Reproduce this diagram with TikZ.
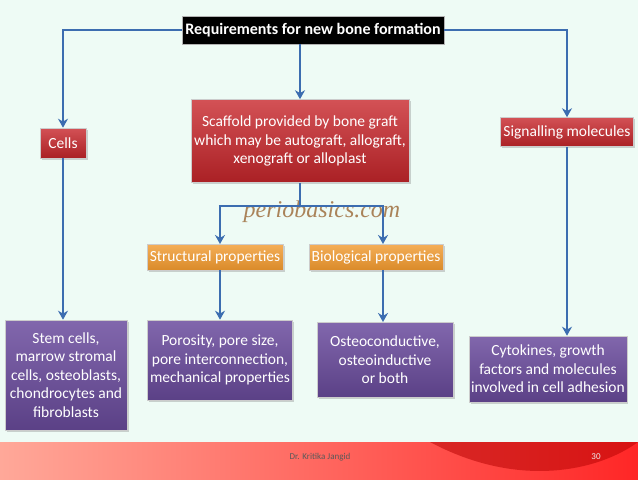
\documentclass[tikz,border=0pt]{standalone}
\usepackage{fontspec}
\setmainfont{Carlito}
\usetikzlibrary{arrows.meta,shadows}
\definecolor{bg}{HTML}{EEFBF5}
\definecolor{redb}{HTML}{C8262B}
\definecolor{orab}{HTML}{F29A2E}
\definecolor{purb}{HTML}{6B4C9E}
\definecolor{arr}{HTML}{3C6DB0}
\tikzset{
 bx/.style={draw=white!80!black, line width=0.6pt, text=white, align=center, font=\fontsize{15.5}{18.5}\selectfont, inner sep=2pt, drop shadow={opacity=0.35,shadow xshift=1.5pt,shadow yshift=-1.5pt}},
 redbox/.style={bx, top color=redb!80!white, bottom color=redb!85!black},
 orabox/.style={bx, top color=orab!80!white, bottom color=orab!90!black},
 purbox/.style={bx, top color=purb!85!white, bottom color=purb!85!black},
 ar/.style={draw=arr, line width=2.5pt, -{Stealth[length=9pt,width=10pt]}},
 ln/.style={draw=arr, line width=2.5pt},
}
\begin{document}
\begin{tikzpicture}[x=1pt,y=-1pt]
\fill[bg] (0,0) rectangle (638,479);
\shade[left color=orange!30!red!40!white, right color=red!85!white] (0,442) rectangle (638,479);
\fill[red!70!black, opacity=0.5] (430,442) .. controls (520,490) and (600,470) .. (638,442) -- cycle;
\useasboundingbox (0,0) rectangle (638,479);
% boxes
\node[fill=black, text=white, font=\bfseries\fontsize{16}{18}\selectfont, minimum width=246, minimum height=28, draw=white!70!black] (t) at (313,30) {Requirements for new bone formation};
\node[redbox, minimum width=46, minimum height=30] (c) at (63,143) {Cells};
\node[redbox, minimum width=218, minimum height=83] (s) at (300,141) {Scaffold provided by bone graft\\which may be autograft, allograft,\\xenograft or alloplast};
\node[redbox, minimum width=133, minimum height=29] (g) at (567,132) {Signalling molecules};
\node[orabox, minimum width=136, minimum height=26] (st) at (215,257) {Structural properties};
\node[orabox, minimum width=134, minimum height=26] (bi) at (376,257) {Biological properties};
\node[purbox, minimum width=122, minimum height=110] (p1) at (66,375) {Stem cells,\\marrow stromal\\cells, osteoblasts,\\chondrocytes and\\fibroblasts};
\node[purbox, minimum width=145, minimum height=80] (p2) at (220,360) {Porosity, pore size,\\pore interconnection,\\mechanical properties};
\node[purbox, minimum width=136, minimum height=75] (p3) at (385,360) {Osteoconductive,\\osteoinductive\\or both};
\node[purbox, minimum width=149, minimum height=66] (p4) at (548,369) {Cytokines, growth\\factors and molecules\\involved in cell adhesion};
% logo
\node[text=brown!80!black, opacity=0.8] (logo) at (322,212) {\fontspec{Liberation Serif}\itshape\fontsize{24}{26}\selectfont periobasics.com};
% connectors
\coordinate (tl) at (63,30); \coordinate (tr) at (567,30);
\draw[ar] (t.west) -- (tl) -- (c.north);
\draw[ar] (t.east) -- (tr) -- (g.north);
\draw[ar] (t.south -| s.north) -- (s.north);
\coordinate (sj) at (300,206);
\draw[ln] (s.south) -- (sj);
\draw[ar] (220,206) -- (220,244);
\draw[ar] (383,206) -- (383,244);
\draw[ln] (218.75,206) -- (384.25,206);
\draw[ar] (c.south) -- (c.south |- p1.north);
\draw[ar] (st.south -| p2.north) -- (p2.north);
\draw[ar] (bi.south -| 383,0) -- (383,322);
\draw[ar] (g.south) -- (g.south |- p4.north);
% footer
\node[text=gray!70!black, font=\fontsize{9}{10}\selectfont] (f1) at (320,457) {Dr. Kritika Jangid};
\node[text=white!85!gray, font=\fontsize{9}{10}\selectfont] (f2) at (596,457) {30};
\end{tikzpicture}
\end{document}
